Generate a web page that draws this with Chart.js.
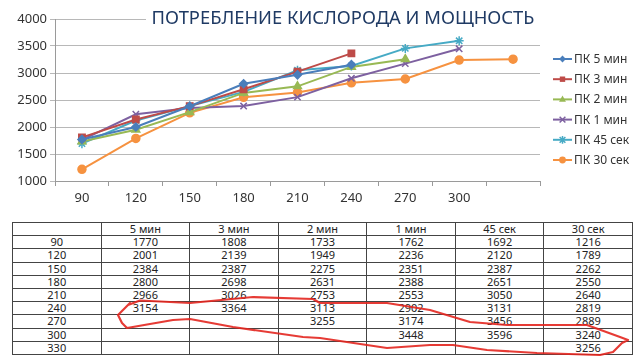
<!DOCTYPE html>
<html><head><meta charset="utf-8">
<script src="https://cdn.jsdelivr.net/npm/chart.js@4"></script>
<style>
html,body{margin:0;padding:0;background:#fff;width:640px;height:360px;overflow:hidden;font-family:"Noto Sans",sans-serif}
#wrap{position:absolute;left:0;top:0;width:640px;height:215px}
#tbl{position:absolute;left:12px;top:222px;width:621px;height:133px;border-collapse:collapse;table-layout:fixed;font-family:"Noto Sans",sans-serif;font-size:11px;color:#222}
#tbl td{border:1px solid #444;text-align:center;padding:0;height:12px;line-height:12px;overflow:hidden;white-space:nowrap}
#ann{position:absolute;left:0;top:0;width:640px;height:360px;pointer-events:none}
</style></head><body>
<div id="wrap"><canvas id="c" width="640" height="215"></canvas></div>
<table id="tbl"></table>
<svg id="ann" viewBox="0 0 640 360"><path d="M130,303 L128,305 L140,300.5 L190,303 L253,297 L313,299 L320,303 L387,303 L430,310 L470,322 L507,325 L587,325 L620,337 L628,340 L622,343 L613,352 L600,355 L537,353 L487,350 L453,345 L430,345 L387,348 L320,338 L303,337 L233,327 L190,319 L173,320 L127,328 L122,323 L118,315 L123,310 L128,305" fill="none" stroke="#e3261f" stroke-width="2.2" stroke-linejoin="round" stroke-linecap="round" opacity="0.9"/></svg>
<script>
const categories = ['90','120','150','180','210','240','270','300','330'];
const axisLabels = ['90','120','150','180','210','240','270','300',''];
const columnHeaders = ['5 мин','3 мин','2 мин','1 мин','45 сек','30 сек'];
const seriesNames = ['ПК 5 мин','ПК 3 мин','ПК 2 мин','ПК 1 мин','ПК 45 сек','ПК 30 сек'];
const pk5min  = [1770,2001,2384,2800,2966,3154,null,null,null];
const pk3min  = [1808,2139,2387,2698,3026,3364,null,null,null];
const pk2min  = [1733,1949,2275,2631,2753,3113,3255,null,null];
const pk1min  = [1762,2236,2351,2388,2553,2902,3174,3448,null];
const pk45sec = [1692,2120,2387,2651,3050,3131,3456,3596,null];
const pk30sec = [1216,1789,2262,2550,2640,2819,2889,3240,3256];
const yTicks = [1000,1500,2000,2500,3000,3500,4000];
const title = 'ПОТРЕБЛЕНИЕ КИСЛОРОДА И МОЩНОСТЬ';

const series = [pk5min,pk3min,pk2min,pk1min,pk45sec,pk30sec];
const colors = ['#4A7EBB','#BE4B48','#98B954','#7D60A0','#46AAC5','#F69240'];
const styles = ['rectRot','rect','triangle','crossRot','star','circle'];
const radii  = [4,4.5,4.5,4.5,4.5,4];

// table
const tbl = document.getElementById('tbl');
let html = '<tr><td></td>' + columnHeaders.map(h=>'<td>'+h+'</td>').join('') + '</tr>';
categories.forEach((c,i)=>{
  html += '<tr><td>'+c+'</td>' + series.map(s=>'<td>'+(s[i]==null?'':s[i])+'</td>').join('') + '</tr>';
});
tbl.innerHTML = html;

function marker(ctx, style, r, x, y, color){
  ctx.save();
  ctx.fillStyle = color; ctx.strokeStyle = color; ctx.lineWidth = 1.5;
  ctx.beginPath();
  if (style==='rectRot'){ctx.moveTo(x,y-r);ctx.lineTo(x+r,y);ctx.lineTo(x,y+r);ctx.lineTo(x-r,y);ctx.closePath();ctx.fill();}
  else if (style==='rect'){const s=r*1.41/2;ctx.rect(x-s,y-s,2*s,2*s);ctx.fill();}
  else if (style==='triangle'){ctx.moveTo(x,y-r);ctx.lineTo(x+r*0.9,y+r*0.6);ctx.lineTo(x-r*0.9,y+r*0.6);ctx.closePath();ctx.fill();}
  else if (style==='crossRot'){const s=r*0.75;ctx.moveTo(x-s,y-s);ctx.lineTo(x+s,y+s);ctx.moveTo(x+s,y-s);ctx.lineTo(x-s,y+s);ctx.stroke();}
  else if (style==='star'){const s=r*0.75;ctx.moveTo(x-s,y-s);ctx.lineTo(x+s,y+s);ctx.moveTo(x+s,y-s);ctx.lineTo(x-s,y+s);ctx.moveTo(x,y-r);ctx.lineTo(x,y+r);ctx.stroke();}
  else {ctx.arc(x,y,r,0,Math.PI*2);ctx.fill();}
  ctx.restore();
}

const overlay = {
  id:'overlay',
  afterDraw(chart){
    const ctx = chart.ctx;
    ctx.save();
    let fs = 20;
    ctx.font = fs+'px "Noto Sans"';
    let w = ctx.measureText(title).width;
    fs = fs*383/w;
    ctx.font = fs+'px "Noto Sans"';
    ctx.fillStyle = '#fff';
    ctx.fillRect(146,7,396,24);
    ctx.fillStyle = '#1F3A64';
    ctx.textAlign='center'; ctx.textBaseline='middle';
    ctx.fillText(title, 343, 19);
    ctx.restore();
    ctx.save();
    chart.data.datasets.forEach((ds,i)=>{
      const y = 59 + i*20.2;
      ctx.strokeStyle = ds.borderColor; ctx.lineWidth = 2;
      ctx.beginPath(); ctx.moveTo(553,y); ctx.lineTo(572,y); ctx.stroke();
      marker(ctx, styles[i], radii[i]*0.85, 562.5, y, ds.borderColor);
      ctx.fillStyle = '#333'; ctx.font = '12px "Noto Sans"';
      ctx.textAlign='left'; ctx.textBaseline='middle';
      ctx.fillText(ds.label, 574, y+0.5);
    });
    ctx.restore();
  }
};

new Chart(document.getElementById('c'), {
  type:'line',
  data:{
    labels: axisLabels,
    datasets: series.map((s,i)=>({
      label: seriesNames[i], data: s, borderColor: colors[i], backgroundColor: colors[i],
      borderWidth: 2, pointStyle: styles[i], pointRadius: radii[i], pointBorderWidth: 1.5,
      pointBackgroundColor: colors[i], pointBorderColor: colors[i], tension:0, spanGaps:false
    }))
  },
  options:{
    responsive:false, animation:false, devicePixelRatio:1,
    layout:{padding:{left:0,right:100,top:19,bottom:0}},
    plugins:{legend:{display:false},title:{display:false},tooltip:{enabled:false}},
    scales:{
      x:{
        offset:true,
        grid:{offset:true,drawOnChartArea:false,drawTicks:true,tickLength:5,color:'#9a9a9a'},
        border:{color:'#9a9a9a'},
        ticks:{color:'#333',font:{family:'Noto Sans',size:13},padding:4,maxRotation:0,autoSkip:false},
        afterFit(s){s.height=34;}
      },
      y:{
        min:1000,max:4000,
        afterBuildTicks(s){s.ticks = yTicks.map(v=>({value:v}));},
        grid:{color:'#b8b8b8',tickLength:5,drawTicks:true},
        border:{color:'#9a9a9a'},
        ticks:{color:'#333',font:{family:'Noto Sans',size:13},padding:3,callback:(v)=>String(v)},
        afterFit(s){s.width=55;}
      }
    }
  },
  plugins:[overlay]
});
</script>
</body></html>
